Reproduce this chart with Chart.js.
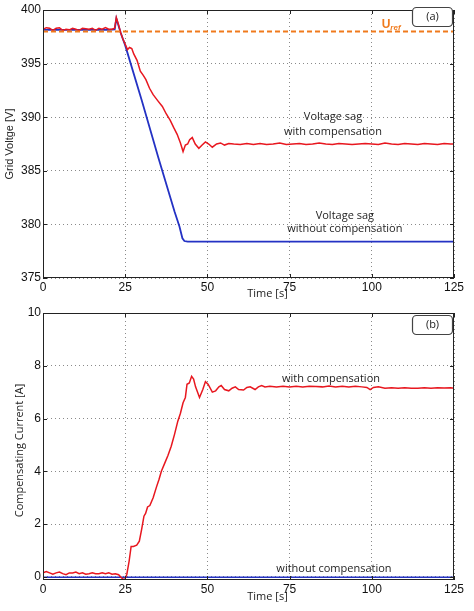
<!DOCTYPE html>
<html lang="en">
<head>
<meta charset="UTF-8">
<title>Grid voltage and compensating current</title>
<script src="https://cdn.jsdelivr.net/npm/chart.js@4.4.1/dist/chart.umd.min.js"></script>
<style>
    body { margin: 0; background: #fff; }
    .page { position: relative; width: 474px; height: 611px; }
    .panel { position: absolute; left: 0; width: 474px; }
    #panelA { top: 0; height: 300px; }
    #panelB { top: 300px; height: 311px; }
</style>
</head>
<body>
<div class="page">
    <div class="panel" id="panelA"><canvas id="voltChart" width="474" height="300"></canvas></div>
    <div class="panel" id="panelB"><canvas id="currChart" width="474" height="311"></canvas></div>
</div>
<script>
// ---- data ----
var timeTicks = [0, 25, 50, 75, 100, 125];
var voltTicks = [375, 380, 385, 390, 395, 400];
var currTicks = [0, 2, 4, 6, 8, 10];

var uRefTime = [0, 125];
var uRefVolt = [398, 398];

// grid voltage, voltage sag with compensation (red)
var voltWithTime = [0, 1, 2, 3, 4, 5, 6, 7, 8, 9, 10, 11, 12, 13, 14, 15, 16, 17, 18, 19, 20, 21, 21.8, 22.3, 23, 23.6,
    24.3, 25, 25.7, 26.3, 27, 27.6, 28.6, 29.6, 30.5, 31.3, 32.4, 33.5, 35, 36.3, 37.5, 38.7, 39.8, 40.8, 41.8, 42.6,
    43.3, 44, 44.6, 45.4, 46.3, 47.4, 48.4, 49.4, 50.4, 51.5, 52.8, 54, 55.2, 56.5, 58, 60, 62, 64, 66, 68, 70, 72,
    74, 76, 78, 80, 82, 84, 86, 88, 90, 92, 94, 96, 98, 100, 102, 104, 106, 108, 110, 112, 114, 116, 118, 120, 122, 124, 125];
var voltWith = [398.2, 398.35, 398.3, 398.1, 398.3, 398.35, 398.1, 398.2, 398.15, 398.3, 398.2, 398.1, 398.3, 398.25,
    398.2, 398.3, 398.1, 398.3, 398.2, 398.35, 398.2, 398.2, 398.3, 399.3, 398.6, 397.9,
    397.3, 396.8, 396.3, 396.5, 396.4, 395.9, 395.3, 394.3, 393.9, 393.5, 392.7, 392.1, 391.5, 391.0, 390.3, 389.7,
    389.0, 388.4, 387.6, 386.8,
    387.4, 387.5, 387.9, 388.1, 387.5, 387.1, 387.4, 387.7, 387.5, 387.2, 387.5, 387.6, 387.4, 387.55, 387.5, 387.45,
    387.55, 387.45, 387.55, 387.45, 387.5, 387.6, 387.45, 387.5, 387.55, 387.45, 387.5, 387.6, 387.5, 387.45, 387.55,
    387.5, 387.45, 387.5, 387.55, 387.5, 387.45, 387.6, 387.5, 387.45, 387.55, 387.5, 387.45, 387.55, 387.5, 387.45,
    387.55, 387.5, 387.5];

// grid voltage, voltage sag without compensation (blue)
var voltWithoutTime = [0, 5, 10, 15, 20, 21.8, 22.3, 23, 23.6, 24.3, 25, 30, 35, 40, 41.5, 42.4, 43, 44, 125];
var voltWithout = [398.15, 398.15, 398.15, 398.15, 398.15, 398.2, 399.2, 398.5, 397.9, 397.3, 396.7, 391.6, 386.3,
    381.2, 379.8, 378.7, 378.45, 378.4, 378.4];

// compensating current with compensation (red)
var currWithTime = [0, 1, 2, 3, 4, 5, 6, 7, 8, 9, 10, 11, 12, 13, 14, 15, 16, 17, 18, 19, 20, 21, 22, 23, 24, 24.8,
    25.5, 26.2, 26.8, 27.5, 28.5, 29.3, 30, 30.7, 31.2, 31.8, 32.5, 33.5, 34.5, 35.3, 36, 37, 38, 39, 40, 41, 41.8,
    42.6, 43.3, 43.8, 44.5, 45.2, 45.8, 46.4, 47.6, 48.6, 49.4, 50.2, 51.5, 52.5, 53.5, 54.2, 55.2, 56.5, 57.5, 58.5,
    59.5, 61, 62, 63, 64.5, 65.5, 66.5, 67.5, 69, 71, 73, 75, 77, 79, 81, 83, 85, 87, 89, 91, 93, 95, 97, 98.5, 99.5,
    100.5, 102, 104, 106, 108, 110, 112, 114, 116, 118, 120, 122, 124, 125];
var currWith = [0.15, 0.2, 0.15, 0.1, 0.15, 0.18, 0.12, 0.08, 0.15, 0.15, 0.18, 0.12, 0.15, 0.1, 0.12, 0.15, 0.12,
    0.12, 0.15, 0.12, 0.15, 0.1, 0.12, 0.08, -0.05, -0.12,
    0.1, 0.6, 1.15, 1.15, 1.2, 1.35, 1.8, 2.3, 2.4, 2.65, 2.7, 3.0, 3.4, 3.7, 4.0, 4.3, 4.6, 4.95, 5.4, 5.9, 6.2,
    6.6, 6.8, 7.3, 7.35, 7.6, 7.5, 7.2, 6.8, 7.1, 7.4, 7.3, 7.0, 7.05, 7.2, 7.25, 7.1, 7.05, 7.15, 7.2,
    7.1, 7.08, 7.18, 7.2, 7.1, 7.2, 7.25, 7.2, 7.22, 7.2, 7.22, 7.2, 7.22, 7.2, 7.22, 7.21, 7.2, 7.23, 7.2, 7.22, 7.2,
    7.22, 7.2, 7.18, 7.1, 7.18, 7.2, 7.15, 7.17, 7.15, 7.17, 7.15, 7.15, 7.17, 7.15, 7.17, 7.16, 7.17, 7.15];

// compensating current without compensation (blue)
var currWithoutTime = [0, 125];
var currWithout = [-0.02, -0.02];

var RED = '#e8171f';
var BLUE = '#2432c4';
var ORANGE = '#f07a1c';

function pts(xs, ys) {
    return xs.map(function (x, i) { return { x: x, y: ys[i] }; });
}

// matlab-ish frame, inner ticks, axis titles and text notes
var figurePlugin = {
    id: 'figure',
    afterDatasetsDraw: function (chart, args, opts) {
        var ctx = chart.ctx, a = chart.chartArea, xs = chart.scales.x, ys = chart.scales.y;
        ctx.save();
        ctx.strokeStyle = '#222';
        ctx.lineWidth = 1;
        ctx.beginPath();
        xs.ticks.forEach(function (t) {
            var px = Math.round(xs.getPixelForValue(t.value)) + 0.5;
            ctx.moveTo(px, a.bottom); ctx.lineTo(px, a.bottom - 4);
            ctx.moveTo(px, a.top); ctx.lineTo(px, a.top + 4);
        });
        ys.ticks.forEach(function (t) {
            var py = Math.round(ys.getPixelForValue(t.value)) + 0.5;
            ctx.moveTo(a.left, py); ctx.lineTo(a.left + 4, py);
            ctx.moveTo(a.right, py); ctx.lineTo(a.right - 4, py);
        });
        ctx.stroke();
        ctx.strokeRect(Math.round(a.left) + 0.5, Math.round(a.top) + 0.5, Math.round(a.width) - 1, Math.round(a.height) - 1);
        ctx.restore();
    },
    afterDraw: function (chart, args, opts) {
        var ctx = chart.ctx, a = chart.chartArea, xs = chart.scales.x, ys = chart.scales.y;
        ctx.save();
        ctx.textAlign = 'center';
        ctx.textBaseline = 'middle';
        ctx.fillStyle = '#222';

        // x title
        ctx.font = '11px "Open Sans"';
        ctx.fillText(opts.xTitle, (a.left + a.right) / 2 + 19, opts.xTitleY);

        // y title
        ctx.save();
        ctx.translate(opts.yTitleX, (a.top + a.bottom) / 2 + opts.yTitleShift);
        ctx.rotate(-Math.PI / 2);
        ctx.font = opts.yTitleFont;
        ctx.fillText(opts.yTitle, 0, 0);
        ctx.restore();

        // notes placed in data coordinates
        ctx.font = '11px "Open Sans"';
        ctx.fillStyle = '#1e1e1e';
        opts.notes.forEach(function (n) {
            ctx.fillText(n.text, xs.getPixelForValue(n.x), ys.getPixelForValue(n.y));
        });

        // panel tag box
        var bw = 40, bh = 19, bx = a.right - 41.5, by = a.top + opts.tagShift + 0.5;
        ctx.beginPath();
        ctx.roundRect(bx, by, bw, bh, 4);
        ctx.fillStyle = '#fff';
        ctx.fill();
        ctx.strokeStyle = '#444';
        ctx.lineWidth = 1.2;
        ctx.stroke();
        ctx.fillStyle = '#222';
        ctx.font = '11px "Open Sans"';
        ctx.fillText(opts.tag, bx + bw / 2, by + bh / 2);

        // U_ref label
        if (opts.uref) {
            var ux = xs.getPixelForValue(opts.uref.x), uy = ys.getPixelForValue(opts.uref.y);
            ctx.textAlign = 'left';
            ctx.fillStyle = ORANGE;
            ctx.font = 'bold 12px "Liberation Sans"';
            ctx.fillText('U', ux, uy);
            var w = ctx.measureText('U').width;
            ctx.font = 'italic bold 8px "Liberation Sans"';
            ctx.fillText('ref', ux + w, uy + 3);
        }
        ctx.restore();
    }
};

function axisX(xHeight) {
    return {
        type: 'linear', min: 0, max: 125,
        afterBuildTicks: function (s) { s.ticks = timeTicks.map(function (v) { return { value: v }; }); },
        afterFit: function (s) { s.height = xHeight; },
        ticks: { font: { family: 'Liberation Sans', size: 12 }, color: '#111', padding: 2, maxRotation: 0 },
        grid: { color: '#8a8a8a', lineWidth: 1, drawTicks: false },
        border: { display: false, dash: [1, 3] }
    };
}

function axisY(min, max, tickList) {
    return {
        type: 'linear', min: min, max: max,
        afterBuildTicks: function (s) { s.ticks = tickList.map(function (v) { return { value: v }; }); },
        afterFit: function (s) { s.width = 43; },
        ticks: { font: { family: 'Liberation Sans', size: 12 }, color: '#111', padding: 2 },
        grid: { color: '#8a8a8a', lineWidth: 1, drawTicks: false },
        border: { display: false, dash: [1, 3] }
    };
}

var voltChart = new Chart(document.getElementById('voltChart'), {
    type: 'line',
    data: {
        datasets: [
            { label: 'U_ref', data: pts(uRefTime, uRefVolt), borderColor: ORANGE, borderWidth: 2, borderDash: [5, 3], order: 0 },
            { label: 'Voltage sag with compensation', data: pts(voltWithTime, voltWith), borderColor: RED, borderWidth: 1.5, order: 1 },
            { label: 'Voltage sag without compensation', data: pts(voltWithoutTime, voltWithout), borderColor: BLUE, borderWidth: 1.8, order: 2 }
        ]
    },
    options: {
        responsive: false,
        animation: false,
        elements: { point: { radius: 0 }, line: { tension: 0 } },
        layout: { padding: { top: 10, right: 20, left: 0, bottom: 0 } },
        scales: { x: axisX(22), y: axisY(375, 400, voltTicks) },
        plugins: {
            legend: { display: false },
            tooltip: { enabled: false },
            figure: {
                xTitle: 'Time [s]', xTitleY: 294,
                yTitle: 'Grid Voltge [V]', yTitleX: 10, yTitleShift: 0, yTitleFont: '11px "Liberation Sans"',
                tag: '(a)', tagShift: -3,
                uref: { x: 103, y: 398.6 },
                notes: [
                    { text: 'Voltage sag', x: 88.2, y: 390.0 },
                    { text: 'with compensation', x: 88.2, y: 388.6 },
                    { text: 'Voltage sag', x: 91.8, y: 380.8 },
                    { text: 'without compensation', x: 91.8, y: 379.6 }
                ]
            }
        }
    },
    plugins: [figurePlugin]
});

var currChart = new Chart(document.getElementById('currChart'), {
    type: 'line',
    data: {
        datasets: [
            { label: 'with compensation', data: pts(currWithTime, currWith), borderColor: RED, borderWidth: 1.5, order: 1 },
            { label: 'without compensation', data: pts(currWithoutTime, currWithout), borderColor: BLUE, borderWidth: 1.5, order: 2 }
        ]
    },
    options: {
        responsive: false,
        animation: false,
        elements: { point: { radius: 0 }, line: { tension: 0 } },
        layout: { padding: { top: 13, right: 20, left: 0, bottom: 0 } },
        scales: { x: axisX(31), y: axisY(-0.12, 10, currTicks) },
        plugins: {
            legend: { display: false },
            tooltip: { enabled: false },
            figure: {
                xTitle: 'Time [s]', xTitleY: 297,
                yTitle: 'Compensating Current [A]', yTitleX: 20, yTitleShift: 4, yTitleFont: '11px "Open Sans"',
                tag: '(b)', tagShift: 2,
                notes: [
                    { text: 'with compensation', x: 87.6, y: 7.5 },
                    { text: 'without compensation', x: 88.5, y: 0.3 }
                ]
            }
        }
    },
    plugins: [figurePlugin]
});
</script>
</body>
</html>
